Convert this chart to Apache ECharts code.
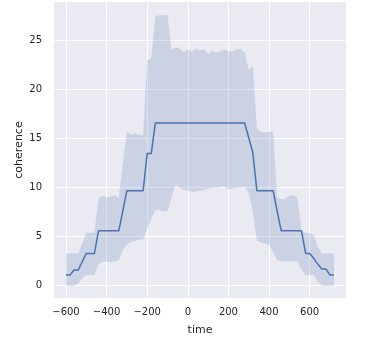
<!DOCTYPE html>
<html>
<head>
<meta charset="utf-8">
<script src="https://cdn.jsdelivr.net/npm/echarts@6/dist/echarts.min.js"></script>
<style>
  html, body { margin: 0; padding: 0; background: #ffffff; }
  #chart { width: 380px; height: 345px; }
</style>
</head>
<body>
<div id="chart"></div>
<script>
// Time points (step 20)
const times = [
  -600, -580, -560, -540, -520, -500, -480, -460, -440, -420, -400, -380, -360, -340,
  -320, -300, -280, -260, -240, -220, -200, -180, -160, -140, -120, -100, -80, -60,
  -40, -20, 0, 20, 40, 60, 80, 100, 120, 140, 160, 180, 200, 220, 240, 260, 280,
  300, 320, 340, 360, 380, 400, 420, 440, 460, 480, 500, 520, 540, 560, 580, 600,
  620, 640, 660, 680, 700, 720
];

// Mean coherence at each time point
const meanCoherence = [
  1.1, 1.1, 1.6, 1.6, 2.45, 3.3, 3.3, 3.3, 5.6, 5.6, 5.6, 5.6, 5.6, 5.6,
  7.65, 9.7, 9.7, 9.7, 9.7, 9.7, 13.5, 13.5, 16.6, 16.6, 16.6, 16.6, 16.6, 16.6,
  16.6, 16.6, 16.6, 16.6, 16.6, 16.6, 16.6, 16.6, 16.6, 16.6, 16.6, 16.6, 16.6, 16.6, 16.6, 16.6, 16.6,
  15.1, 13.6, 9.7, 9.7, 9.7, 9.7, 9.7, 7.6, 5.6, 5.6, 5.6, 5.6, 5.6, 5.6, 3.3, 3.3,
  2.8, 2.2, 1.7, 1.7, 1.1, 1.1
];

// Upper bound of the confidence interval
const upperCI = [
  3.3, 3.3, 3.3, 3.3, 4.3, 5.4, 5.4, 5.4, 8.9, 9.2, 9.0, 9.1, 9.2, 9.0,
  12.5, 15.7, 15.4, 15.6, 15.4, 15.4, 23.0, 23.2, 27.5, 27.6, 27.6, 27.6, 24.0, 24.3,
  24.2, 23.8, 24.1, 23.9, 24.2, 24.0, 24.15, 23.6, 24.0, 23.8, 23.9, 24.1, 23.9, 23.9, 24.1, 24.15, 23.8,
  22.0, 22.4, 16.0, 15.7, 15.6, 15.7, 15.7, 9.0, 8.8, 8.9, 9.2, 9.2, 9.0, 5.5, 5.4, 5.4,
  5.2, 4.0, 3.3, 3.3, 3.3, 3.3
];

// Lower bound of the confidence interval
const lowerCI = [
  0, 0, 0, 0.2, 0.8, 1.1, 1.1, 1.1, 2.2, 2.4, 2.5, 2.4, 2.5, 2.6,
  3.6, 4.2, 4.5, 4.6, 4.7, 4.7, 5.8, 6.8, 7.7, 7.7, 7.6, 7.6, 9.0, 10.3,
  10.0, 9.8, 9.7, 9.6, 9.6, 9.7, 9.8, 9.9, 10.0, 10.0, 10.1, 10.1, 9.8, 9.9, 10.0, 10.0, 10.1,
  9.5, 7.5, 4.6, 4.4, 4.3, 4.2, 3.4, 2.6, 2.5, 2.5, 2.5, 2.5, 2.5, 1.6, 1.1, 1.1,
  1.1, 0.4, 0, 0, 0, 0
];

// Tick values
const xTicks = [-600, -400, -200, 0, 200, 400, 600];
const yTicks = [0, 5, 10, 15, 20, 25];

const lineColor = '#4C72B0';
const bandColor = 'rgba(76,114,176,0.2)';
const textColor = '#262626';
const fontFamily = 'DejaVu Sans';

const meanData = times.map((t, i) => [t, meanCoherence[i]]);

const fmt = v => (v < 0 ? '\u2212' + Math.abs(v) : String(v));

// Confidence band: polygon along the upper bound, back along the lower bound
function renderBand(params, api) {
  const pts = [];
  for (let i = 0; i < times.length; i++) pts.push(api.coord([times[i], upperCI[i]]));
  for (let i = times.length - 1; i >= 0; i--) pts.push(api.coord([times[i], lowerCI[i]]));
  return {
    type: 'polygon',
    shape: { points: pts },
    style: { fill: bandColor, stroke: null }
  };
}

const chart = echarts.init(document.getElementById('chart'), null, { renderer: 'canvas' });
chart.setOption({
  animation: false,
  backgroundColor: '#ffffff',
  grid: {
    left: 54, top: 2, width: 292, height: 296,
    show: true, backgroundColor: '#EAEAF2', borderWidth: 0
  },
  xAxis: {
    type: 'value',
    min: -659, max: 779,
    name: 'time',
    nameLocation: 'middle',
    nameGap: 27,
    nameMoveOverlap: false,
    nameTextStyle: { color: textColor, fontSize: 11, fontFamily },
    axisLine: { show: false },
    axisTick: { show: false, customValues: xTicks },
    axisLabel: {
      color: textColor, fontSize: 10, fontFamily, margin: 9,
      customValues: xTicks,
      formatter: fmt
    },
    splitLine: { show: true, lineStyle: { color: '#ffffff', width: 1 } }
  },
  yAxis: {
    type: 'value',
    min: -1.25, max: 28.95,
    name: 'coherence',
    nameLocation: 'middle',
    nameGap: 29,
    nameMoveOverlap: false,
    nameTextStyle: { color: textColor, fontSize: 11, fontFamily },
    axisLine: { show: false },
    axisTick: { show: false, customValues: yTicks },
    axisLabel: {
      color: textColor, fontSize: 10, fontFamily, margin: 12,
      customValues: yTicks,
      formatter: fmt
    },
    splitLine: { show: true, lineStyle: { color: '#ffffff', width: 1 } }
  },
  series: [
    {
      type: 'custom',
      renderItem: renderBand,
      data: [0],
      silent: true,
      z: 2
    },
    {
      type: 'line',
      data: meanData,
      symbol: 'none',
      lineStyle: { color: lineColor, width: 1.5 },
      z: 3
    }
  ]
});
</script>
</body>
</html>
